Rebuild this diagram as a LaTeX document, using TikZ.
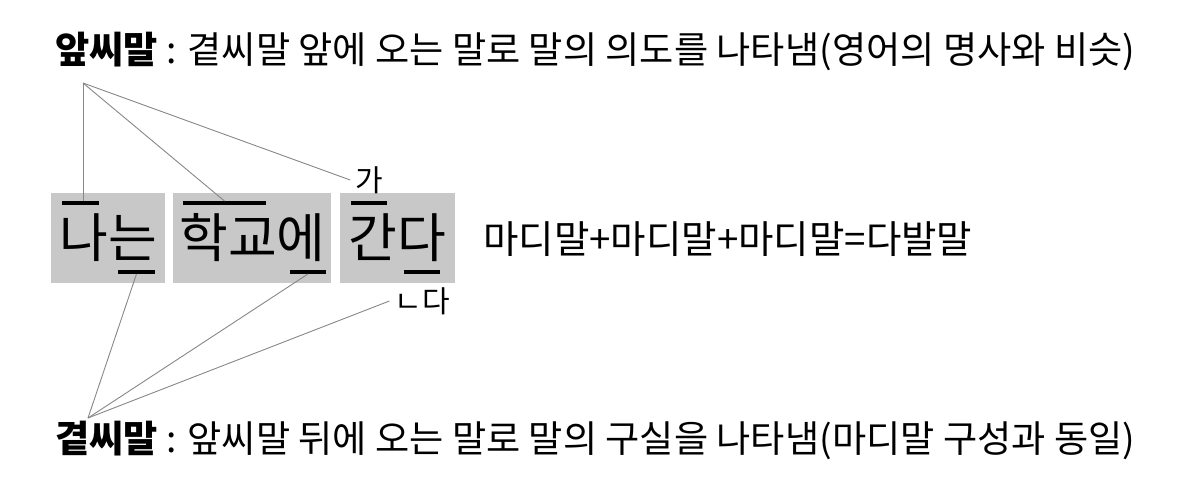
\documentclass[tikz,border=0pt]{standalone}
\usepackage{fontspec}
\setmainfont{Noto Sans CJK KR}
\usetikzlibrary{positioning}
\definecolor{boxgray}{RGB}{200,200,200}
\definecolor{linegray}{RGB}{135,135,135}

\begin{document}
\begin{tikzpicture}[x = 1pt, y = -1pt,
  word/.style = {fill = boxgray, inner sep = 0pt, minimum height = 90pt, font = \fontsize{53}{53}\selectfont},
  bar/.style = {fill = black, inner sep = 0pt, minimum height = 3.5pt},
  link/.style = {draw = linegray, line width = 0.9pt},
  note/.style = {inner sep = 0pt, outer sep = 5pt, font = \fontsize{30}{30}\selectfont},
  defn/.style = {inner sep = 0pt, anchor = west, font = \fontsize{37.2}{37.2}\selectfont}]
\useasboundingbox (0,0) rectangle (1182,494);
\node[defn] (front) at (55,51) {\textbf{앞씨말} : 곁씨말 앞에 오는 말로 말의 의도를 나타냄(영어의 명사와 비슷)};
\node[defn] (back) at (55,440) {\textbf{곁씨말} : 앞씨말 뒤에 오는 말로 말의 구실을 나타냄(마디말 구성과 동일)};
\node[word, minimum width = 114pt] (w1) at (108,238) {나는};
\node[word, minimum width = 158pt, right = 8pt of w1] (w2) {학교에};
\node[word, minimum width = 115pt, right = 8pt of w2] (w3) {간다};
\node[defn, font = \fontsize{38.5}{38.5}\selectfont] (sum) at (483,239) {마디말+마디말+마디말=다발말};
% bars over and under the letters
\node[bar, minimum width = 37pt] (t1) at (80.5,203) {};
\node[bar, minimum width = 83pt] (t2) at (224.5,203) {};
\node[bar, minimum width = 36pt] (t3) at (369,203) {};
\node[bar, minimum width = 37pt] (b1) at (136.5,272) {};
\node[bar, minimum width = 36pt] (b2) at (308,272) {};
\node[bar, minimum width = 36pt] (b3) at (422,272) {};
\node[note] (ga) at (369,180) {가};
\node[note] (nda) at (422,301) {ㄴ다};
\coordinate (fp) at (83,83);
\coordinate (bp) at (88,418);
\draw[link] (fp) -- (fp |- t1.north);
\draw[link] (fp) -- (t2.north);
\draw[link] (fp) -- (ga.west);
\draw[link] (bp) -- (b1.south);
\draw[link] (bp) -- (b2.south);
\draw[link] (bp) -- (nda.west);
\end{tikzpicture}
\end{document}
